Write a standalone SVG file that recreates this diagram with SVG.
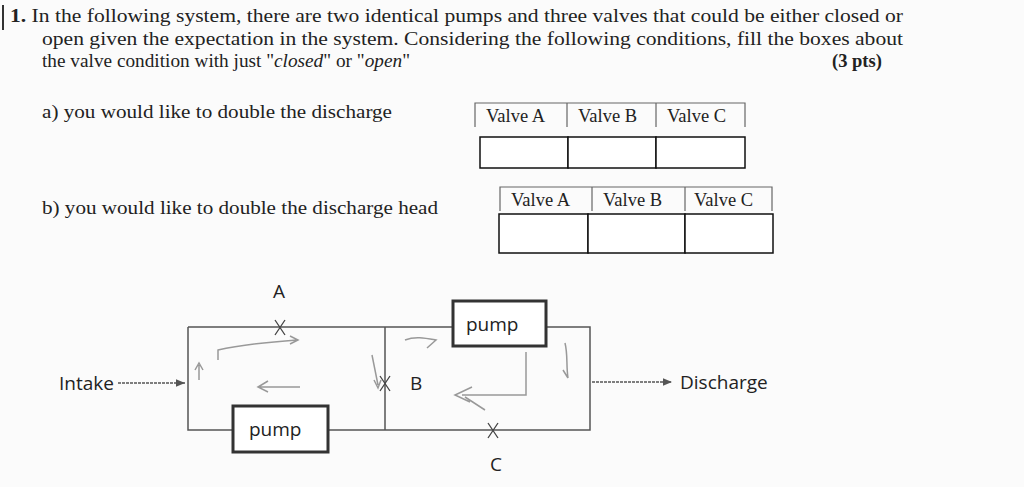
<svg xmlns="http://www.w3.org/2000/svg" width="1024" height="487" viewBox="0 0 1024 487">
<style>
.t{font-family:"Liberation Serif",serif;font-size:18.5px;fill:#222}
.s{font-family:"Open Sans","DejaVu Sans",sans-serif;font-size:19px;fill:#222}
.ln{stroke:#555;stroke-width:1.5;fill:none}
.bx{stroke:#333;stroke-width:3;fill:#fff}
.cell{stroke:#111;stroke-width:1.5;fill:#fff}
.hd{stroke:#666;stroke-width:1.2;fill:none}
.pen{stroke:#999;stroke-width:1.5;fill:none}
</style>
<defs>
<marker id="ah" markerWidth="8" markerHeight="8" refX="7" refY="4" orient="auto"><path d="M0,1 L7,4 L0,7 Z" fill="#555"/></marker>
</defs>
<rect width="1024" height="487" fill="#fbfbfb"/>
<line x1="3" y1="5" x2="3" y2="30" stroke="#333" stroke-width="2"/>
<g id="question">
<text class="t" x="10" y="22" textLength="893" lengthAdjust="spacingAndGlyphs"><tspan font-weight="bold">1.</tspan>  In the following system, there are two identical pumps and three valves that could be either closed or</text>
<text class="t" x="42" y="45" textLength="861" lengthAdjust="spacingAndGlyphs">open given the expectation in the system. Considering the following conditions, fill the boxes about</text>
<text class="t" x="42" y="67" textLength="368" lengthAdjust="spacingAndGlyphs">the valve condition with just "<tspan font-style="italic">closed</tspan>" or "<tspan font-style="italic">open</tspan>"</text>
<text class="t" x="832" y="67" font-weight="bold">(3 pts)</text>
<text class="t" x="42" y="118" textLength="350" lengthAdjust="spacingAndGlyphs">a) you would like to double the discharge</text>
<text class="t" x="42" y="214" textLength="396" lengthAdjust="spacingAndGlyphs">b) you would like to double the discharge head</text>
</g>
<g id="table-a">
<path class="hd" d="M475,127 V103 H745 V127 M567,103 V127 M656,103 V127"/>
<text class="t" x="486" y="122">Valve A</text><text class="t" x="578" y="122">Valve B</text><text class="t" x="667" y="122">Valve C</text>
<rect class="cell" x="480" y="137" width="88" height="31"/><rect class="cell" x="568" y="137" width="88" height="31"/><rect class="cell" x="656" y="137" width="89" height="31"/>
</g>
<g id="table-b">
<path class="hd" d="M500,211 V187 H772 V211 M592,187 V211 M685,187 V211"/>
<text class="t" x="511" y="206">Valve A</text><text class="t" x="603" y="206">Valve B</text><text class="t" x="694" y="206">Valve C</text>
<rect class="cell" x="499" y="214" width="89" height="39"/><rect class="cell" x="588" y="214" width="97" height="39"/><rect class="cell" x="685" y="214" width="88" height="39"/>
</g>
<g id="connectors">
<path class="ln" d="M188,327 H453 M546,327 H590 V430 H188 V327 M385,327 V430"/>
<line x1="118" y1="383" x2="185" y2="383" stroke="#555" stroke-width="1.3" stroke-dasharray="3,1" marker-end="url(#ah)"/>
<line x1="592" y1="382" x2="672" y2="382" stroke="#555" stroke-width="1.3" stroke-dasharray="3,1" marker-end="url(#ah)"/>
</g>
<g id="intake"><text class="s" x="59" y="390">Intake</text></g>
<g id="discharge"><text class="s" x="680" y="389">Discharge</text></g>
<g id="pump-top"><rect class="bx" x="453" y="301" width="93" height="45"/><text class="s" x="466" y="331">pump</text></g>
<g id="pump-bottom"><rect class="bx" x="233" y="406" width="95" height="46"/><text class="s" x="249" y="436">pump</text></g>
<g id="valve-a"><path d="M275,320 L285,335 M285,320 L275,335" stroke="#444" stroke-width="1.3"/><text class="s" x="273" y="298">A</text></g>
<g id="valve-b"><path d="M380,376 L390,391 M390,376 L380,391" stroke="#444" stroke-width="1.3"/><text class="s" x="410" y="390">B</text></g>
<g id="valve-c"><path d="M488,423 L498,438 M498,423 L488,438" stroke="#444" stroke-width="1.3"/><text class="s" x="490" y="471">C</text></g>
<g id="pencil">
<path class="pen" d="M199,380 V365 M195,370 L199,363 L203,370 M218,360 V350 C240,345 270,342 297,340 M290,336 L298,340 L290,344"/>
<path class="pen" d="M300,387 H260 M268,381 L258,387 L268,392"/>
<path class="pen" d="M372,355 L378,385 M374,380 L378,388 L381,380"/>
<path class="pen" d="M405,340 C415,336 425,338 436,340 L427,348"/>
<path class="pen" d="M526,352 V395 H462 M472,387 L455,395 L470,402 M465,397 L485,410"/>
<path class="pen" d="M565,343 C568,355 566,365 568,378 M563,370 L568,378"/>
</g>
</svg>
